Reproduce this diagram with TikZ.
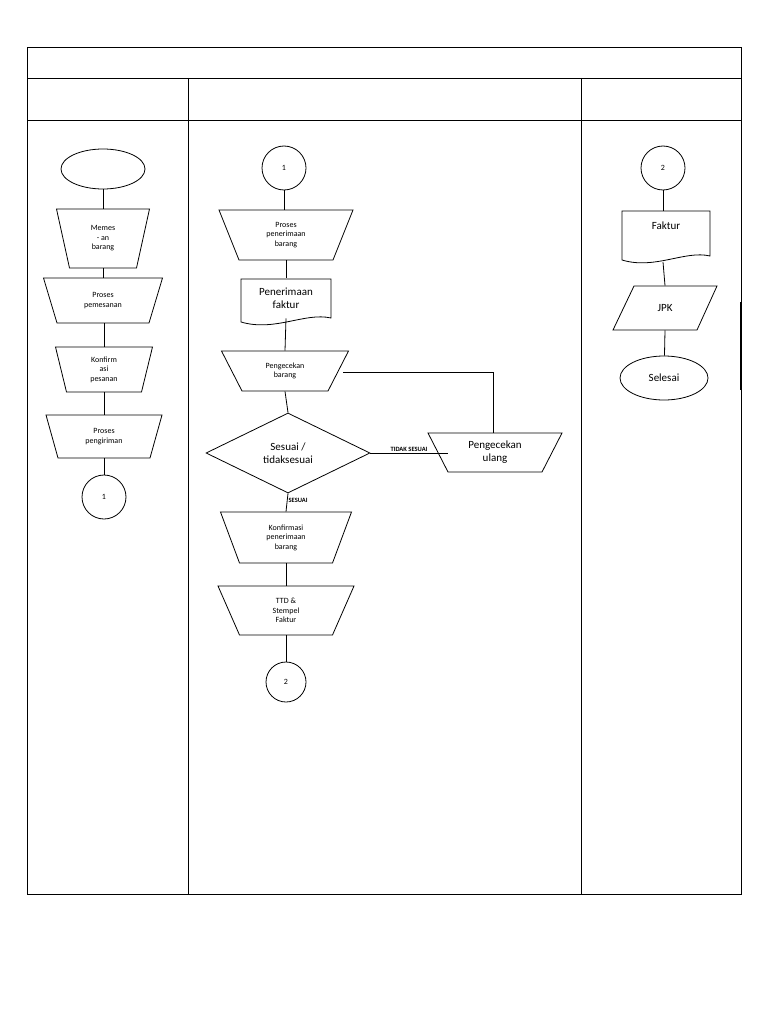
\documentclass[tikz,border=0pt]{standalone}
\usepackage{fontspec}
\setmainfont{Carlito}
\usetikzlibrary{shapes.geometric}
\begin{document}
\begin{tikzpicture}[x=1pt,y=-1pt,line width=0.8pt,
  sm/.style={font=\fontsize{8}{9.5}\selectfont,align=center,inner sep=0pt},
  lg/.style={font=\fontsize{11}{13}\selectfont,align=center,inner sep=0pt},
  lbl/.style={font=\fontsize{6.5}{7}\selectfont\bfseries,inner sep=1pt}]
\useasboundingbox (0,0) rectangle (768,1024);
\fill[white] (0,0) rectangle (768,1024);
\newcommand\trapz[8]{%
  \draw (#2-#5,#3) -- (#2+#5,#3) -- (#2+#6,#4) -- (#2-#6,#4) -- cycle;
  \node[#8,minimum height={#4pt-#3pt},minimum width={2*#6pt}] (#1) at (#2,{(#3+#4)/2}) {#7};}
% frame
\draw (27,47) rectangle (741,894);
\draw (27,78) -- (741,78);
\draw (27,120) -- (741,120);
\draw (188,78) -- (188,894);
\draw (581,78) -- (581,894);
\draw[line width=1.6pt] (741,302) -- (741,390);
% left column
\node[draw,ellipse,minimum width=84,minimum height=40,inner sep=0] (s) at (103,169) {};
\trapz{l1}{103}{209}{268}{46.5}{33.5}{Memes\\- an\\barang}{sm}
\trapz{l2}{103}{278}{323}{59.5}{46}{Proses\\pemesanan}{sm}
\trapz{l3}{104}{347}{392}{48.5}{37.5}{Konfirm\\asi\\pesanan}{sm}
\trapz{l4}{104}{415}{458}{58}{46}{Proses\\pengiriman}{sm}
\node[draw,circle,minimum size=44,inner sep=0,sm] (c1) at (104,497) {1};
\draw (s) -- (l1.north); \draw (l1.south) -- (l2.north);
\draw (l2.south -| l3) -- (l3.north); \draw (l3.south) -- (l4.north);
\draw (l4.south) -- (c1);
% middle column
\node[draw,circle,minimum size=44,inner sep=0,sm] (m1) at (284,168) {1};
\trapz{m2}{286}{210}{260}{67}{47}{Proses\\penerimaan\\barang}{sm}
\draw (241,279) -- (331,279) -- (331,318) .. controls (305,312) and (275,332) .. (241,322) -- cycle;
\node[lg,minimum width=90,minimum height=40] (m3) at (286,298) {Penerimaan\\faktur};
\trapz{m4}{285}{351}{391}{63.5}{43}{Pengecekan\\barang}{sm}
\node[draw,diamond,aspect=2.05,minimum width=164,minimum height=80,inner sep=0,lg] (d) at (288,453) {};
\node[lg] at (288,453) {Sesuai /\\tidaksesuai};
\trapz{u}{495}{433}{472}{67}{47}{Pengecekan\\ulang}{lg}
\trapz{m5}{286}{512}{563}{65.5}{46.5}{Konfirmasi\\penerimaan\\barang}{sm}
\trapz{m6}{286}{586}{635}{68}{46.5}{TTD \&\\Stempel\\Faktur}{sm}
\node[draw,circle,minimum size=40,inner sep=0,sm] (m7) at (286,682) {2};
\draw (m1) -- (m1 |- m2.north); \draw (m2.south) -- (m3.north);
\draw (m3.south) -- (m4.north); \draw (m4.south) -- (d.north);
\draw (d.south) -- (m5.north) node[lbl,pos=0.4,right] {SESUAI};
\draw (m5.south) -- (m6.north); \draw (m6.south) -- (m7);
\draw (d.east) -- (u.west |- d.east) node[lbl,midway,above] {TIDAK SESUAI};
\draw (343,372) -- (493,372) -- (493,433);
% right column
\node[draw,circle,minimum size=44,inner sep=0,sm] (r1) at (663,168) {2};
\draw (622,211) -- (710,211) -- (710,256) .. controls (685,250) and (655,270) .. (622,260) -- cycle;
\node[lg,minimum width=88,minimum height=30] (r2) at (666,226) {Faktur};
\draw (634,286) -- (717,286) -- (697,330) -- (613,330) -- cycle;
\node[lg,minimum width=60,minimum height=44] (r3) at (665,308) {JPK};
\node[draw,ellipse,minimum width=88,minimum height=44,inner sep=0,lg] (r4) at (664,378) {Selesai};
\draw (r1) -- (663,211); \draw (663,262) -- (r3.north);
\draw (r3.south) -- (r4);
\end{tikzpicture}
\end{document}
